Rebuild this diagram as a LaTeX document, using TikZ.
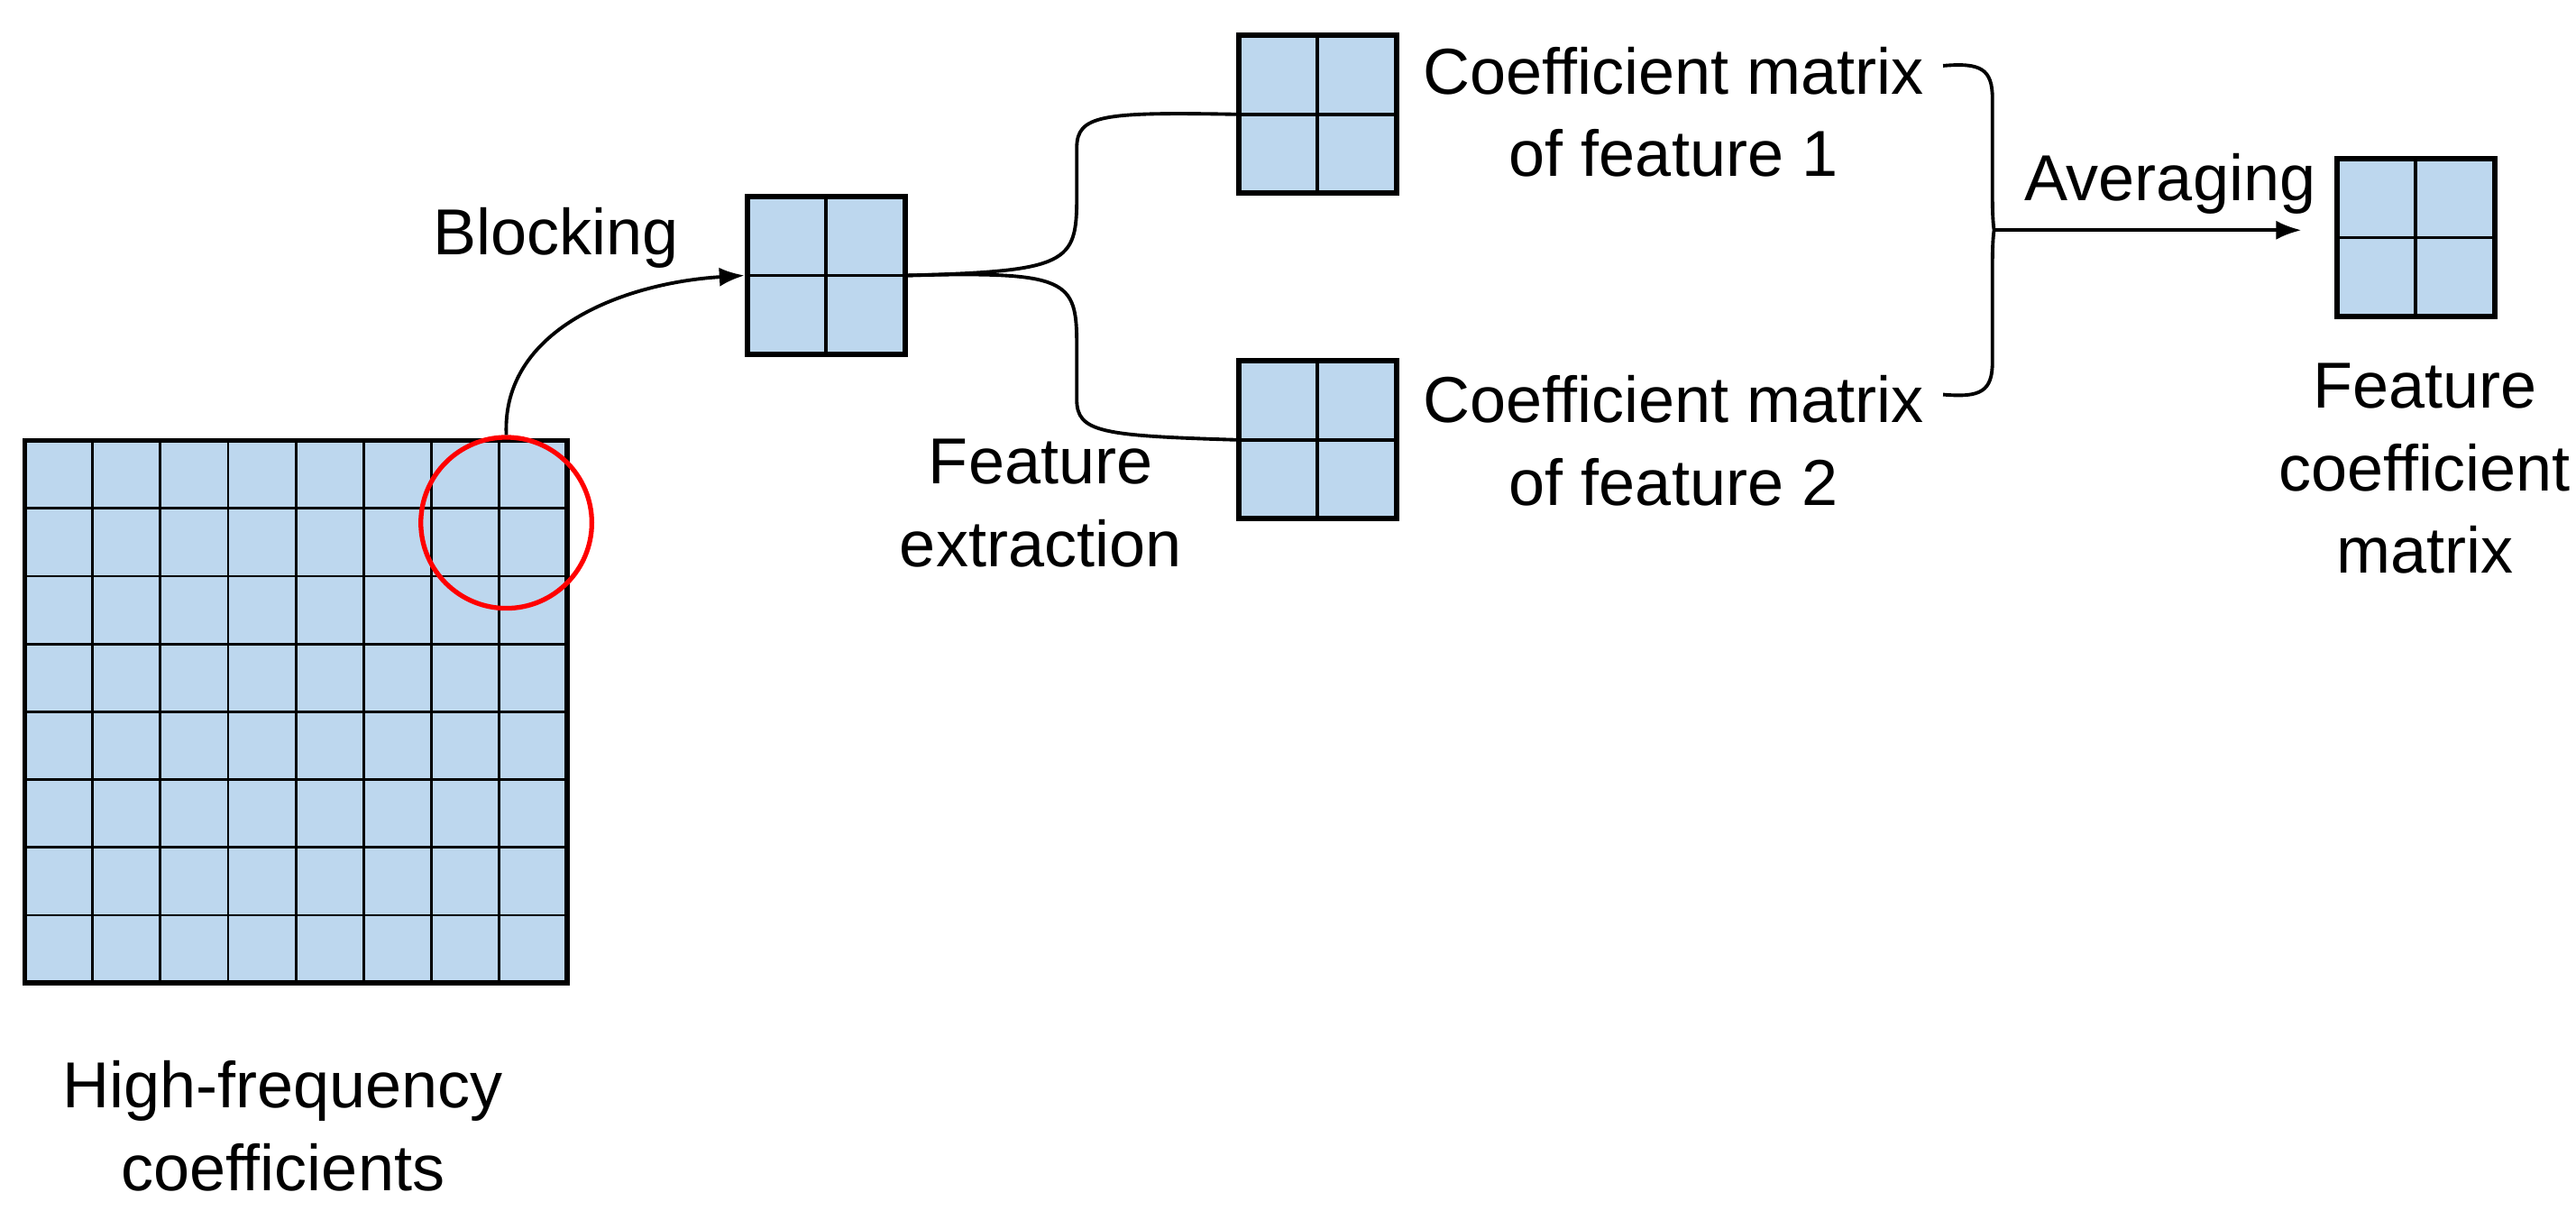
\documentclass[tikz,border=0pt]{standalone}
\usepackage{fontspec}
\setmainfont{Liberation Sans}
\usetikzlibrary{arrows.meta}
\definecolor{cellblue}{RGB}{189,215,238}
\begin{document}
\begin{tikzpicture}[x=0.01823cm,y=-0.01823cm,
  lbl/.style={font=\fontsize{20.5}{26}\selectfont,align=center,inner sep=0},
  ln/.style={line width=1.1pt},
  arr/.style={ln,-{Latex[length=8pt,width=6pt]}}]
\useasboundingbox (0,0) rectangle (1567,742);
% big grid
\fill[cellblue] (15,268) rectangle (345,598);
\foreach \i in {1,...,7}{
  \draw[line width=0.8pt] ({15+41.25*\i},268) -- ({15+41.25*\i},598);
  \draw[line width=0.8pt] (15,{268+41.25*\i}) -- (345,{268+41.25*\i});}
\draw[line width=1.6pt] (15,268) rectangle (345,598);
\node[draw=red,line width=1.5pt,circle,minimum size=104*0.01823cm,inner sep=0] (circ) at (308,318) {};
% small blocks
\foreach \n/\x/\y in {blk/453/118, f1/752/20, f2/752/218, out/1420/95}{
  \node[fill=cellblue,draw,line width=1.6pt,minimum size=96*0.01823cm,inner sep=0,anchor=north west] (\n) at (\x,\y) {};
  \draw[line width=1.1pt] (\n.north) -- (\n.south) (\n.west) -- (\n.east);
}
\node[lbl] (blab) at (338,145) {Blocking};
\draw[arr] (circ.north) .. controls (305,200) and (380,172) .. (blk.west);
% branches
\draw[ln] (blk.east) .. controls (650,165) and (655,160) .. (655,120) -- (655,90) .. controls (655,70) and (670,68) .. (f1.west);
\draw[ln] (blk.east) .. controls (650,165) and (655,170) .. (655,210) -- (655,243) .. controls (655,263) and (670,265) .. (f2.west);
\node[lbl] (fe) at (633,306) {Feature\\extraction};
\node[lbl] (c1) at (1018,68) {Coefficient matrix\\of feature 1};
\node[lbl] (c2) at (1018,268) {Coefficient matrix\\of feature 2};
% brace
\coordinate (bt) at (1182,40);
\coordinate (bb) at (1182,240);
\coordinate (bm) at (1213,140);
\draw[ln] (bt) .. controls (1205,38) and (1212,42) .. (1212,60) -- (1212,120) .. controls (1212,135) and (1213,140) .. (bm)
          .. controls (1213,140) and (1212,145) .. (1212,160) -- (1212,220) .. controls (1212,238) and (1205,242) .. (bb);
\node[lbl] (avg) at (1320,112) {Averaging};
\draw[arr] (bm) -- (1400,140);
\node[lbl] (fcm) at (1475,285) {Feature\\coefficient\\matrix};
\node[lbl] (hf) at (172,685) {High-frequency\\coefficients};
\end{tikzpicture}
\end{document}
